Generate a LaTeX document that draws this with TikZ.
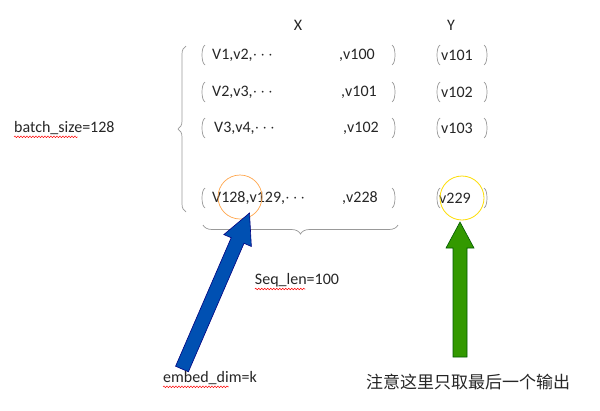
\documentclass[tikz,border=0pt]{standalone}
\usepackage{fontspec}
\setmainfont{Carlito}
\newfontfamily\cjk{Noto Sans CJK SC}
\usetikzlibrary{decorations.pathreplacing,decorations.pathmorphing,calc}
\begin{document}
\begin{tikzpicture}[x=1pt,y=-1pt,
  t/.style={font=\fontsize{16}{18}\selectfont, inner sep=0pt, anchor=west, text=black!85},
  brk/.style={draw=black!40, line width=0.7pt},
  wavy/.style={draw=red, line width=0.5pt, decorate, decoration={snake, amplitude=0.8pt, segment length=3pt}}]
\useasboundingbox (0,0) rectangle (600,410);
\fill[white] (0,0) rectangle (600,410);
\node[t,anchor=center] (X) at (298,25) {X};
\node[t,anchor=center] (Y) at (451,25) {Y};
% big left brace
\draw[brk, decorate, decoration={brace, amplitude=8pt}] (186,212) -- (186,46);
\node[t] (bs) at (14,128) {batch\_size=128};
\draw[wavy] ($(bs.south west)+(0,2)$) -- ($(bs.south west)!0.63!(bs.south east)+(0,2)$);
% rows
\foreach \y in {55,92,128,198}{
  \draw[brk] (205,\y-10) .. controls (201,\y-8) and (201,\y+8) .. (205,\y+10);
  \draw[brk] (392,\y-10) .. controls (396,\y-8) and (396,\y+8) .. (392,\y+10);
  \draw[brk] (440,\y-10) .. controls (436,\y-8) and (436,\y+8) .. (440,\y+10);
  \draw[brk] (484,\y-10) .. controls (488,\y-8) and (488,\y+8) .. (484,\y+10);
}
\node[t] (a1) at (212,55) {V1,v2,$\cdots$};  \node[t] (b1) at (339,55) {,v100}; \node[t] (c1) at (441,55) {v101};
\node[t] (a2) at (212,92) {V2,v3,$\cdots$};  \node[t] (b2) at (341,92) {,v101}; \node[t] (c2) at (441,92) {v102};
\node[t] (a3) at (214,128) {V3,v4,$\cdots$}; \node[t] (b3) at (343,128) {,v102}; \node[t] (c3) at (441,128) {v103};
\node[t] (a4) at (212,198) {V128,v129,$\cdots$}; \node[t] (b4) at (342,198) {,v228}; \node[t] (c4) at (439,198) {v229};
% circles
\draw[orange!70, line width=0.7pt] (240,197) circle (22);
\draw[yellow!80!orange, line width=0.8pt] (462,198) circle (22);
% bottom brace
\draw[brk, decorate, decoration={brace, amplitude=9pt}] (398,225) -- (203,225);
\node[t,anchor=center] (sl) at (297,280) {Seq\_len=100};
\draw[wavy] ($(sl.south west)+(0,2)$) -- ($(sl.south west)!0.6!(sl.south east)+(0,2)$);
% blue arrow
\begin{scope}[shift={(182,369)}, rotate=66.6]
\filldraw[fill=blue!55!cyan!70!black, draw=blue!50!black, line width=0.6pt]
 (0,-7) -- (140,-7) -- (140,-15) -- (170,0) -- (140,15) -- (140,7) -- (0,7) -- cycle;
\end{scope}
% green arrow
\filldraw[fill=green!50!black!80!yellow, draw=green!35!black, line width=0.6pt]
 (453,357) -- (453,248) -- (446,248) -- (460,222) -- (474,248) -- (467,248) -- (467,357) -- cycle;
\node[t,anchor=center] (ed) at (210,378) {embed\_dim=k};
\draw[wavy] ($(ed.south west)+(0,2)$) -- ($(ed.south west)!0.7!(ed.south east)+(0,2)$);
\node[t,anchor=center,font=\fontsize{17}{19}\selectfont] (zy) at (468,382) {\cjk 注意这里只取最后一个输出};
\end{tikzpicture}
\end{document}
